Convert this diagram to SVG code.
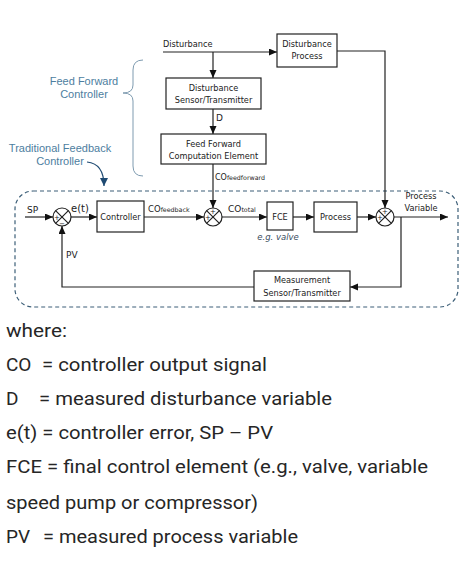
<svg xmlns="http://www.w3.org/2000/svg" width="474" height="585" viewBox="0 0 474 585">
<defs>
<marker id="arr" markerUnits="userSpaceOnUse" markerWidth="9" markerHeight="8" refX="8" refY="3.5" orient="auto"><path d="M0,0 L8,3.5 L0,7 z" fill="#111"/></marker>
<marker id="arrN" markerUnits="userSpaceOnUse" markerWidth="9" markerHeight="9" refX="8" refY="4" orient="auto"><path d="M0,0 L8,4 L0,8 z" fill="#1e4a72"/></marker>
<style>
.box{fill:#fff;stroke:#222;stroke-width:1.2}
.ln{fill:none;stroke:#222;stroke-width:1.2}
.t{font-family:"DejaVu Sans",sans-serif;font-size:8.2px;fill:#222}
.tc{font-family:"DejaVu Sans",sans-serif;font-size:8.2px;fill:#222;text-anchor:middle}
.sub{font-size:6.3px}
.sg{font-family:"DejaVu Sans",sans-serif;font-size:7px;fill:#222;text-anchor:middle}
.bl{font-family:"Liberation Sans",Arial,sans-serif;font-size:11px;fill:#4d7ea0;text-anchor:middle}
.lg{font-family:Roboto,"Noto Sans",sans-serif;font-size:19px;fill:#262626}
</style>
</defs>
<rect width="474" height="585" fill="#fff"/>

<!-- dashed feedback region -->
<rect x="15" y="191" width="443" height="116" rx="18" ry="18" fill="none" stroke="#3d5f78" stroke-width="1.2" stroke-dasharray="4 3"/>

<!-- annotations -->
<g id="ff-label">
<text class="bl" x="84" y="85">Feed Forward</text>
<text class="bl" x="84" y="98">Controller</text>
<path d="M143,60 Q133,60 133,70 L133,85 Q133,93 123,93 Q133,93 133,101 L133,166 Q133,176 143,176" fill="none" stroke="#7e9bb0" stroke-width="1"/>
</g>
<g id="fb-label">
<text class="bl" x="60" y="152">Traditional Feedback</text>
<text class="bl" x="60" y="165">Controller</text>
<path d="M87,162 C98,163 104,170 104,186" fill="none" stroke="#1e4a72" stroke-width="1.2" marker-end="url(#arrN)"/>
</g>

<g id="connectors">
<!-- disturbance -->
<path class="ln" d="M163,52 L277,52" marker-end="url(#arr)"/>
<path class="ln" d="M213,52 L213,78" marker-end="url(#arr)"/>
<path class="ln" d="M213,109 L213,134" marker-end="url(#arr)"/>
<path class="ln" d="M213,164 L213,208" marker-end="url(#arr)"/>
<path class="ln" d="M337,51 L385,51 L385,208" marker-end="url(#arr)"/>
<!-- main loop -->
<path class="ln" d="M25,217 L53,217" marker-end="url(#arr)"/>
<path class="ln" d="M71,217 L97,217" marker-end="url(#arr)"/>
<path class="ln" d="M144,217 L204,217" marker-end="url(#arr)"/>
<path class="ln" d="M222,217 L267,217" marker-end="url(#arr)"/>
<path class="ln" d="M293,217 L314,217" marker-end="url(#arr)"/>
<path class="ln" d="M357,217 L376,217" marker-end="url(#arr)"/>
<path class="ln" d="M394,217 L448,217" marker-end="url(#arr)"/>
<path class="ln" d="M401,217 L401,287 L350,287" marker-end="url(#arr)"/>
<path class="ln" d="M255,287 L62,287 L62,226" marker-end="url(#arr)"/>
<!-- labels -->
<text class="t" x="163" y="47">Disturbance</text>
<text class="t" x="216" y="121" style="font-size:9px">D</text>
<text class="t" x="215" y="180" style="font-size:8px">CO<tspan class="sub">feedforward</tspan></text>
<text class="t" x="27" y="213" style="font-size:9px">SP</text>
<text class="t" x="71" y="212" style="font-size:10px">e(t)</text>
<text class="t" x="148" y="212" style="font-size:8.5px">CO<tspan class="sub">feedback</tspan></text>
<text class="t" x="228" y="212" style="font-size:9px">CO<tspan class="sub">total</tspan></text>
<text class="t" x="66" y="258" style="font-size:9px">PV</text>
<text class="tc" x="421" y="199">Process</text>
<text class="tc" x="421" y="211">Variable</text>
<text class="tc" x="278" y="240" style="font-style:italic;font-size:8.5px;fill:#3a4d60">e.g. valve</text>
</g>

<g id="disturbance-process">
<rect class="box" x="277" y="34" width="60" height="33"/>
<text class="tc" x="307" y="47">Disturbance</text>
<text class="tc" x="307" y="59">Process</text>
</g>
<g id="disturbance-sensor">
<rect class="box" x="166" y="78" width="95" height="31"/>
<text class="tc" x="213.5" y="91">Disturbance</text>
<text class="tc" x="213.5" y="103">Sensor/Transmitter</text>
</g>
<g id="ff-computation">
<rect class="box" x="161" y="134" width="105" height="30"/>
<text class="tc" x="213.5" y="147">Feed Forward</text>
<text class="tc" x="213.5" y="159">Computation Element</text>
</g>
<g id="controller">
<rect class="box" x="97" y="201" width="47" height="31"/>
<text class="tc" x="120.5" y="220">Controller</text>
</g>
<g id="fce">
<rect class="box" x="267" y="202" width="26" height="28"/>
<text class="tc" x="280" y="220">FCE</text>
</g>
<g id="process">
<rect class="box" x="314" y="202" width="43" height="30"/>
<text class="tc" x="335.5" y="220">Process</text>
</g>
<g id="measurement-sensor">
<rect class="box" x="254" y="271" width="96" height="30"/>
<text class="tc" x="302" y="283">Measurement</text>
<text class="tc" x="302" y="296">Sensor/Transmitter</text>
</g>
<g id="sum1">
<circle class="box" cx="62" cy="217" r="9"/>
<path class="ln" d="M55.6,210.6 L68.4,223.4 M68.4,210.6 L55.6,223.4" stroke-width="1"/>
<text class="sg" x="57" y="219.5">+</text>
<text class="sg" x="62" y="225.5">−</text>
</g>
<g id="sum2">
<circle class="box" cx="213" cy="217" r="9"/>
<path class="ln" d="M206.6,210.6 L219.4,223.4 M219.4,210.6 L206.6,223.4" stroke-width="1"/>
<text class="sg" x="213" y="214">+</text>
<text class="sg" x="208" y="219.5">+</text>
</g>
<g id="sum3">
<circle class="box" cx="385" cy="217" r="9"/>
<path class="ln" d="M378.6,210.6 L391.4,223.4 M391.4,210.6 L378.6,223.4" stroke-width="1"/>
<text class="sg" x="385" y="214">+</text>
<text class="sg" x="380" y="219.5">+</text>
</g>

<g id="legend">
<text class="lg" x="6" y="337" textLength="61" lengthAdjust="spacingAndGlyphs">where:</text>
<text class="lg" x="6" y="371">CO</text>
<text class="lg" x="42" y="371" textLength="225" lengthAdjust="spacingAndGlyphs">= controller output signal</text>
<text class="lg" x="6" y="405">D</text>
<text class="lg" x="39" y="405" textLength="293" lengthAdjust="spacingAndGlyphs">= measured disturbance variable</text>
<text class="lg" x="6" y="439" textLength="267" lengthAdjust="spacingAndGlyphs">e(t) = controller error, SP – PV</text>
<text class="lg" x="6" y="473" textLength="422" lengthAdjust="spacingAndGlyphs">FCE = final control element (e.g., valve, variable</text>
<text class="lg" x="6" y="509" textLength="252" lengthAdjust="spacingAndGlyphs">speed pump or compressor)</text>
<text class="lg" x="6" y="543">PV</text>
<text class="lg" x="43" y="543" textLength="255" lengthAdjust="spacingAndGlyphs">= measured process variable</text>
</g>
</svg>
